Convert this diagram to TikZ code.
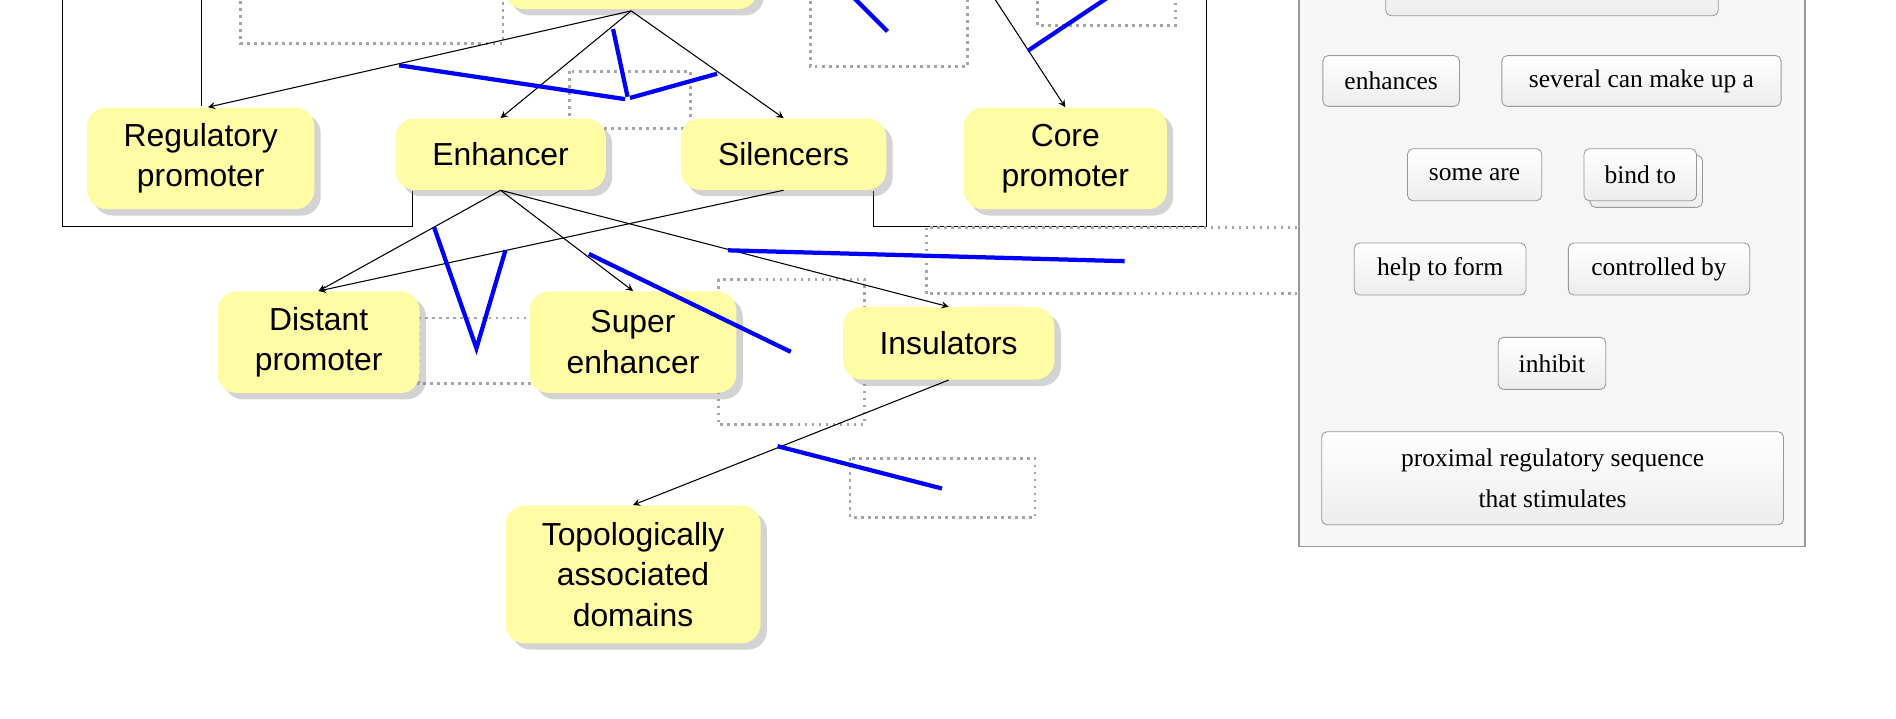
\documentclass[tikz,border=0pt]{standalone}
\usepackage{fontspec}
\setmainfont{Liberation Serif}
\setsansfont{Liberation Sans}
\usetikzlibrary{shadows}
\definecolor{ny}{HTML}{FFFCA6}
\definecolor{btn}{HTML}{EDEDED}
\begin{document}
\begin{tikzpicture}[x=0.02cm,y=-0.02cm,
  concept/.style={fill=ny,rounded corners=9pt,draw=none,font=\sffamily\fontsize{15}{19}\selectfont,align=center,inner sep=0,drop shadow={opacity=0.35,shadow xshift=3pt,shadow yshift=-3pt}},
  btnn/.style={draw=gray!80,top color=white,bottom color=btn,rounded corners=2.5pt,font=\fontsize{12}{19}\selectfont,align=center,inner sep=0},
  dots/.style={draw=gray!70,dotted,line width=1.3pt},
  blue/.style={draw=blue,line width=2pt},
  link/.style={draw=black,line width=0.5pt,-stealth},
  frame/.style={draw=black,line width=0.5pt}]
\useasboundingbox (0,0) rectangle (1568,594);
\clip (0,0) rectangle (1568,594);
% frames
\draw[frame] (167,-5)--(167,88);
\draw[frame] (52,-5)--(52,187)--(341,187)--(341,158);
\draw[frame] (722,158)--(722,187)--(998,187)--(998,-5);
% dotted boxes
\draw[dots] (199,-5) rectangle (416,36);
\draw[dots] (670,-5) rectangle (800,55);
\draw[dots] (858,-5) rectangle (972,21);
\draw[dots] (471,59) rectangle (571,106);
\draw[dots] (346,263) rectangle (441,317);
\draw[dots] (594,231) rectangle (715,351);
\draw[dots] (1073,188)--(766,188)--(766,243)--(1073,243);
\draw[dots] (703,379) rectangle (856,428);
% nodes
\node[concept,minimum width=209\pgflinewidth] (top) at (522,-25) [minimum width=4.18cm,minimum height=1.3cm] {};
\node[concept,minimum width=3.76cm,minimum height=1.68cm] (reg) at (166,131) {Regulatory\\promoter};
\node[concept,minimum width=3.48cm,minimum height=1.18cm] (enh) at (414,127.5) {Enhancer};
\node[concept,minimum width=3.4cm,minimum height=1.18cm] (sil) at (648,127.5) {Silencers};
\node[concept,minimum width=3.36cm,minimum height=1.68cm] (core) at (881,131) {Core\\promoter};
\node[concept,minimum width=3.34cm,minimum height=1.68cm] (dist) at (263.5,283) {Distant\\promoter};
\node[concept,minimum width=3.42cm,minimum height=1.68cm] (sup) at (523.5,283) {Super\\enhancer};
\node[concept,minimum width=3.5cm,minimum height=1.2cm] (ins) at (784.5,284) {Insulators};
\node[concept,minimum width=4.22cm,minimum height=2.28cm] (tad) at (523.5,475) {Topologically\\associated\\domains};
\coordinate (corein) at (820,-5);
% connectors
\draw[link] (522,9) -- (reg.north -| 172,0);
\draw[link] (522,9) -- (enh.north);
\draw[link] (522,9) -- (sil.north);
\draw[link] (corein) -- (core.north);
\draw[link] (enh.south) -- (dist.north);
\draw[link] (sil.south) -- (dist.north);
\draw[link] (enh.south) -- (sup.north);
\draw[link] (enh.south) -- (ins.north);
\draw[link] (ins.south) -- (tad.north);
% blue lines
\draw[blue] (330,54)--(517,82);
\draw[blue] (507,24)--(519,80);
\draw[blue] (521,81)--(593,61);
\draw[blue] (706,-2)--(734,26);
\draw[blue] (850,42)--(916,-2);
\draw[blue] (359,188)--(394,288)--(418,207);
\draw[blue] (487,210)--(654,291);
\draw[blue] (602,207)--(930,216);
\draw[blue] (643,369)--(779,404);
% panel
\draw[draw=gray!80,fill=gray!7,line width=0.8pt] (1074,-5) rectangle (1493,452);
\node[btnn,minimum width=5.5cm,minimum height=1cm] (b0) at (1283.5,-12) {};
\node[btnn,minimum width=2.26cm,minimum height=0.84cm] (b1) at (1150.5,67) {enhances};
\node[btnn,minimum width=4.62cm,minimum height=0.84cm] (b2) at (1357.5,67) {several can make up a};
\node[btnn,minimum width=2.22cm,minimum height=0.86cm] (b3) at (1219.5,144.5) {some are};
\node[btnn,minimum width=1.86cm,minimum height=0.86cm] (b4s) at (1361.5,150) {};
\node[btnn,minimum width=1.86cm,minimum height=0.86cm] (b4) at (1356.5,144.5) {bind to};
\node[btnn,minimum width=2.84cm,minimum height=0.86cm] (b5) at (1191,222.5) {help to form};
\node[btnn,minimum width=3cm,minimum height=0.86cm] (b6) at (1372,222.5) {controlled by};
\node[btnn,minimum width=1.78cm,minimum height=0.86cm] (b7) at (1283.5,300.5) {inhibit};
\node[btnn,minimum width=7.64cm,minimum height=1.54cm] (b8) at (1284,395.5) {proximal regulatory sequence\\that stimulates};
\end{tikzpicture}
\end{document}
